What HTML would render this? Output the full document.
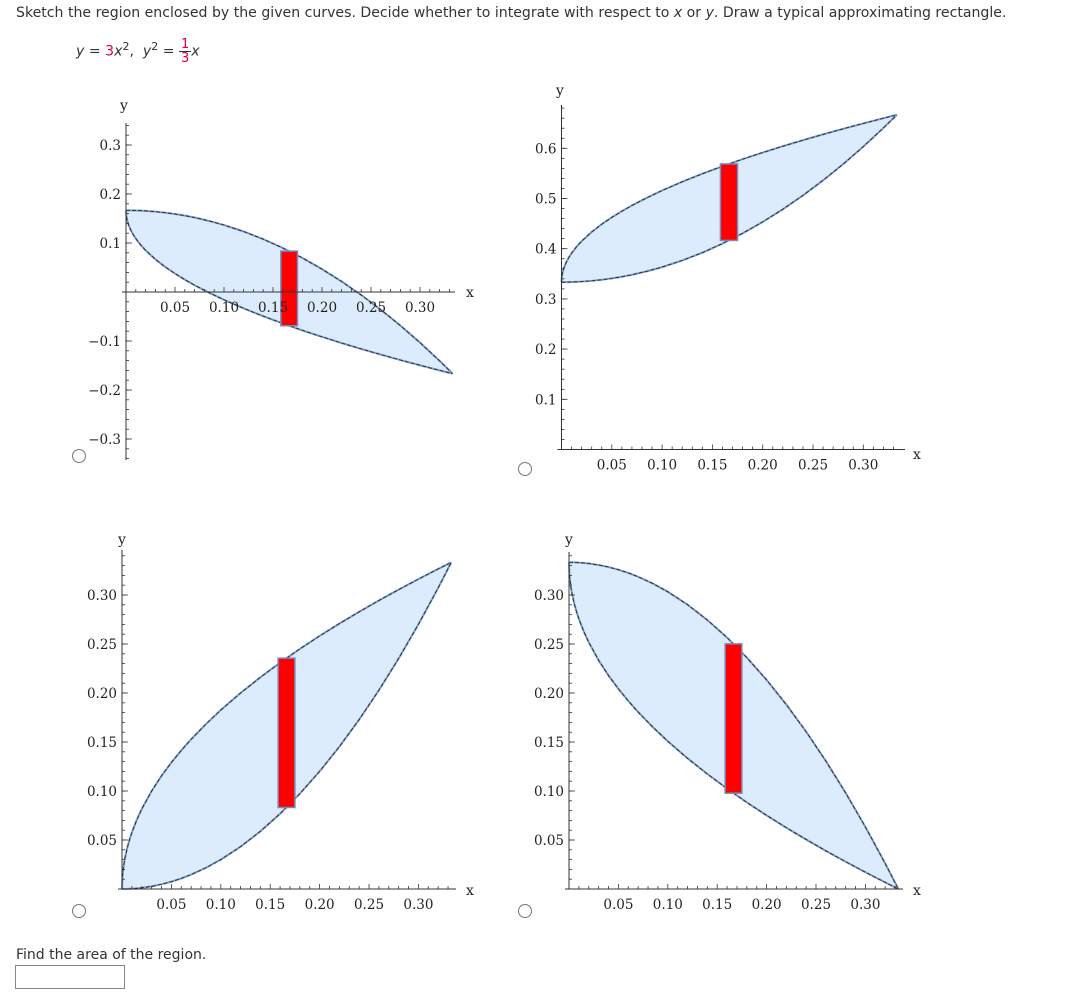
<!DOCTYPE html>
<html><head><meta charset="utf-8">
<style>
body{margin:0;width:1078px;height:998px;background:#fff;font-family:Verdana,"DejaVu Sans",sans-serif;position:relative;overflow:hidden}
.t{position:absolute;color:#333;font-size:14px;white-space:nowrap}
svg{position:absolute;left:0;top:0}
.radio{position:absolute;width:12px;height:12px;border:1px solid #777;border-radius:50%;background:#fff}
</style></head><body>
<div class="t" style="left:16px;top:5px;font-size:14.1px">Sketch the region enclosed by the given curves. Decide whether to integrate with respect to <i>x</i> or <i>y</i>. Draw a typical approximating rectangle.</div>
<div class="t" style="left:76px;top:38px;font-size:14.1px"><i>y</i> = <span style="color:#e0003c">3</span><i>x</i><sup style="font-size:11px">2</sup>,&nbsp; <i>y</i><sup style="font-size:11px">2</sup> = <span style="display:inline-block;vertical-align:middle;text-align:center;font-size:13px;line-height:13px;color:#e0003c"><span style="border-bottom:1px solid #333;display:block;padding:0 2px">1</span>3</span><i>x</i></div>
<svg id="plots" width="1078" height="998"></svg>
<div class="radio" style="left:72px;top:449px"></div>
<div class="radio" style="left:518px;top:462px"></div>
<div class="radio" style="left:72px;top:904px"></div>
<div class="radio" style="left:518px;top:904px"></div>
<div class="t" style="left:16px;top:947px">Find the area of the region.</div>
<div style="position:absolute;left:15px;top:965px;width:108px;height:22px;border:1px solid #888;background:#fff"></div>
<script>
// sample x values and read curve values
const xs=[0,0.0005,0.001,0.002,0.003,0.005,0.0075,0.01,0.015,0.02,0.03,0.04,0.05,0.06,0.07,0.085,0.1,0.12,0.14,0.16,0.18,0.2,0.22,0.24,0.26,0.28,0.3,0.32,0.3333];
const sqrtCurve=[0,0.0129,0.0183,0.0258,0.0316,0.0408,0.05,0.0577,0.0707,0.0816,0.1,0.1155,0.1291,0.1414,0.1528,0.1683,0.1826,0.2,0.216,0.2309,0.245,0.2582,0.2708,0.2828,0.2944,0.3055,0.3162,0.3266,0.3333];
const parabola=[0,0,0,0,0,0.0001,0.0002,0.0003,0.0007,0.0012,0.0027,0.0048,0.0075,0.0108,0.0147,0.0217,0.03,0.0432,0.0588,0.0768,0.0972,0.12,0.1452,0.1728,0.2028,0.2352,0.27,0.3072,0.3333];
const xTicks=[0.05,0.10,0.15,0.20,0.25,0.30];
const rectX=[0.158,0.175];
// per-chart: offset, sign of curves
const offsets=[1/6,1/3,0,1/3];
const signs=[-1,1,1,-1];
const yTickSets=[[0.3,0.2,0.1,-0.1,-0.2,-0.3],[0.6,0.5,0.4,0.3,0.2,0.1],[0.30,0.25,0.20,0.15,0.10,0.05],[0.30,0.25,0.20,0.15,0.10,0.05]];
const yDec=[1,1,2,2];
const yMinor=[0.02,0.02,0.01,0.01];
const layout=[
 {x0:126,xs:980,y0:292,ys:490,yTop:123,yBot:460,xEnd:455,yl:[124,110],xl:[466,297]},
 {x0:561.5,xs:1006,y0:449.5,ys:502,yTop:105,yBot:450,xEnd:905,yl:[560,95],xl:[913,459]},
 {x0:122,xs:988,y0:889,ys:980,yTop:550,yBot:889,xEnd:456,yl:[122,544],xl:[466,895]},
 {x0:569,xs:988,y0:889,ys:980,yTop:552,yBot:889,xEnd:903,yl:[569,544],xl:[913,895]}];
const svg=document.getElementById('plots');
const NS='http://www.w3.org/2000/svg';
const FONT='DejaVu Serif, serif';
function mk(tag,attrs,parent){const e=document.createElementNS(NS,tag);for(const k in attrs)e.setAttribute(k,attrs[k]);parent.appendChild(e);return e;}
layout.forEach((L,ci)=>{
 const g=mk('g',{},svg);
 
 
 const X=v=>L.x0+v*L.xs, Y=v=>L.y0-v*L.ys;
 const up=xs.map((x,i)=>[X(x),Y(offsets[ci]+signs[ci]*(signs[ci]>0?sqrtCurve[i]:parabola[i]))]);
 const lo=xs.map((x,i)=>[X(x),Y(offsets[ci]+signs[ci]*(signs[ci]>0?parabola[i]:sqrtCurve[i]))]);
 const d='M'+up.map(p=>p.join(',')).join('L')+'L'+lo.slice().reverse().map(p=>p.join(',')).join('L')+'Z';
 const reg=mk('path',{d:d,fill:'#dcecfd',stroke:'none'},g);
 
 
 [up,lo].forEach((c,k)=>{
  const p=mk('path',{d:'M'+c.map(p=>p.join(',')).join('L'),fill:'none',stroke:'#7d9cc8','stroke-width':2},g);
  
  
  mk('path',{d:'M'+c.map(p=>p.join(',')).join('L'),fill:'none',stroke:'#222','stroke-width':0.8,'stroke-dasharray':'4 2'},g);
 });
 // rectangle
 const xm=(rectX[0]+rectX[1])/2;
 const sq=Math.sqrt(xm/3), pa=3*xm*xm;
 const a=offsets[ci]+signs[ci]*sq, b=offsets[ci]+signs[ci]*pa;
 const top=Math.max(a,b), bot=Math.min(a,b);
 const r=mk('rect',{x:X(rectX[0]),y:Y(top),width:X(rectX[1])-X(rectX[0]),height:Y(bot)-Y(top),fill:'#ff0000',stroke:'#7090c0','stroke-width':1.5},g);
 
 
 // axes
 const ax=mk('line',{x1:L.x0-4,y1:L.y0,x2:L.xEnd,y2:L.y0,stroke:'#333','stroke-width':1},g);
 
 
 const ay=mk('line',{x1:L.x0,y1:L.yTop,x2:L.x0,y2:L.yBot,stroke:'#333','stroke-width':1},g);
 
 
 for(let v=0.01;X(v)<L.xEnd-2;v+=0.01){const maj=Math.abs(v*20-Math.round(v*20))<1e-6;mk('line',{x1:X(v),y1:L.y0,x2:X(v),y2:L.y0-(maj?5:3),stroke:'#333','stroke-width':0.8},g);}
 const ymin=(L.y0-L.yBot)/L.ys, ymax=(L.y0-L.yTop)/L.ys;
 for(let v=Math.ceil(ymin/yMinor[ci])*yMinor[ci];v<ymax;v+=yMinor[ci]){if(Math.abs(v)<1e-6)continue;mk('line',{x1:L.x0,y1:Y(v),x2:L.x0+3,y2:Y(v),stroke:'#333','stroke-width':0.8},g);}
 xTicks.forEach(v=>{
  const t=mk('text',{x:X(v),y:L.y0+20,'text-anchor':'middle','font-family':FONT,'font-size':13.5,fill:'#222'},g);
  t.textContent=v.toFixed(2);
  
  
 });
 yTickSets[ci].forEach(v=>{
  mk('line',{x1:L.x0,y1:Y(v),x2:L.x0+6,y2:Y(v),stroke:'#333','stroke-width':0.8},g);
  const t=mk('text',{x:L.x0-5,y:Y(v)+5,'text-anchor':'end','font-family':FONT,'font-size':13.5,fill:'#222'},g);
  t.textContent=(v<0?'\u2212':'')+Math.abs(v).toFixed(yDec[ci]);
  
  
 });
 const tx=mk('text',{x:L.xl[0],y:L.xl[1],'font-family':FONT,'font-size':14,fill:'#222'},g);tx.textContent='x';
 
 
 const ty=mk('text',{x:L.yl[0],y:L.yl[1],'text-anchor':'middle','font-family':FONT,'font-size':14,fill:'#222'},g);ty.textContent='y';
 
 
});
</script>
</body></html>
